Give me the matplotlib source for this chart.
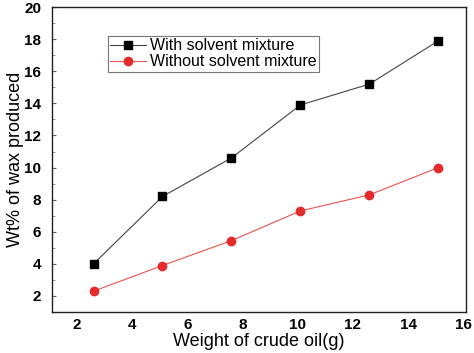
import matplotlib
matplotlib.use('Agg')
import matplotlib.pyplot as plt
from matplotlib.ticker import MultipleLocator

plt.rcParams['font.family'] = ['Liberation Sans', 'DejaVu Sans']

# weight of crude oil (g)
crude_oil = [2.6, 5.1, 7.6, 10.1, 12.6, 15.1]
# wt% of wax produced
with_solvent = [4.0, 8.2, 10.6, 13.9, 15.2, 17.9]
without_solvent = [2.3, 3.9, 5.45, 7.3, 8.3, 10.0]

fig = plt.figure(figsize=(4.74, 3.53), dpi=100)
ax = fig.add_axes([0.11, 0.116, 0.873, 0.864])

ax.plot(crude_oil, with_solvent, color='#444444', linewidth=0.8, marker='s',
        markersize=5.5, markerfacecolor='black', markeredgecolor='black',
        label='With solvent mixture')
ax.plot(crude_oil, without_solvent, color='#e8534f', linewidth=0.8, marker='o',
        markersize=6, markerfacecolor='#e32b2b', markeredgecolor='#e32b2b',
        label='Without solvent mixture')

ax.set_xlim(1.1, 16.1)
ax.set_ylim(1.0, 20)
ax.xaxis.set_major_locator(MultipleLocator(2))
ax.yaxis.set_major_locator(MultipleLocator(2))
ax.yaxis.set_minor_locator(MultipleLocator(1))
ax.tick_params(which='both', direction='in', top=False, right=False)
ax.tick_params(axis='x', which='major', length=0, pad=4)
ax.tick_params(axis='y', which='major', length=3, color='#666666', pad=8)
ax.tick_params(axis='y', which='minor', length=2, color='#888888')
ax.tick_params(which='major', labelsize=11)
for lbl in ax.get_xticklabels() + ax.get_yticklabels():
    lbl.set_fontweight('bold')
for sp in ax.spines.values():
    sp.set_linewidth(1.0)
    sp.set_color('#222222')

ax.set_xlabel('Weight of crude oil(g)', fontsize=13, labelpad=1)
ax.set_ylabel('Wt% of wax produced', fontsize=13, labelpad=0)

leg = ax.legend(loc='upper left', bbox_to_anchor=(0.135, 0.905), fontsize=11.5,
                frameon=True, fancybox=False, edgecolor='#555555',
                borderpad=0.15, labelspacing=0.05, handlelength=2.2,
                handletextpad=0.3, borderaxespad=0)
leg.get_frame().set_linewidth(0.8)

fig.savefig('out.png', dpi=100)
